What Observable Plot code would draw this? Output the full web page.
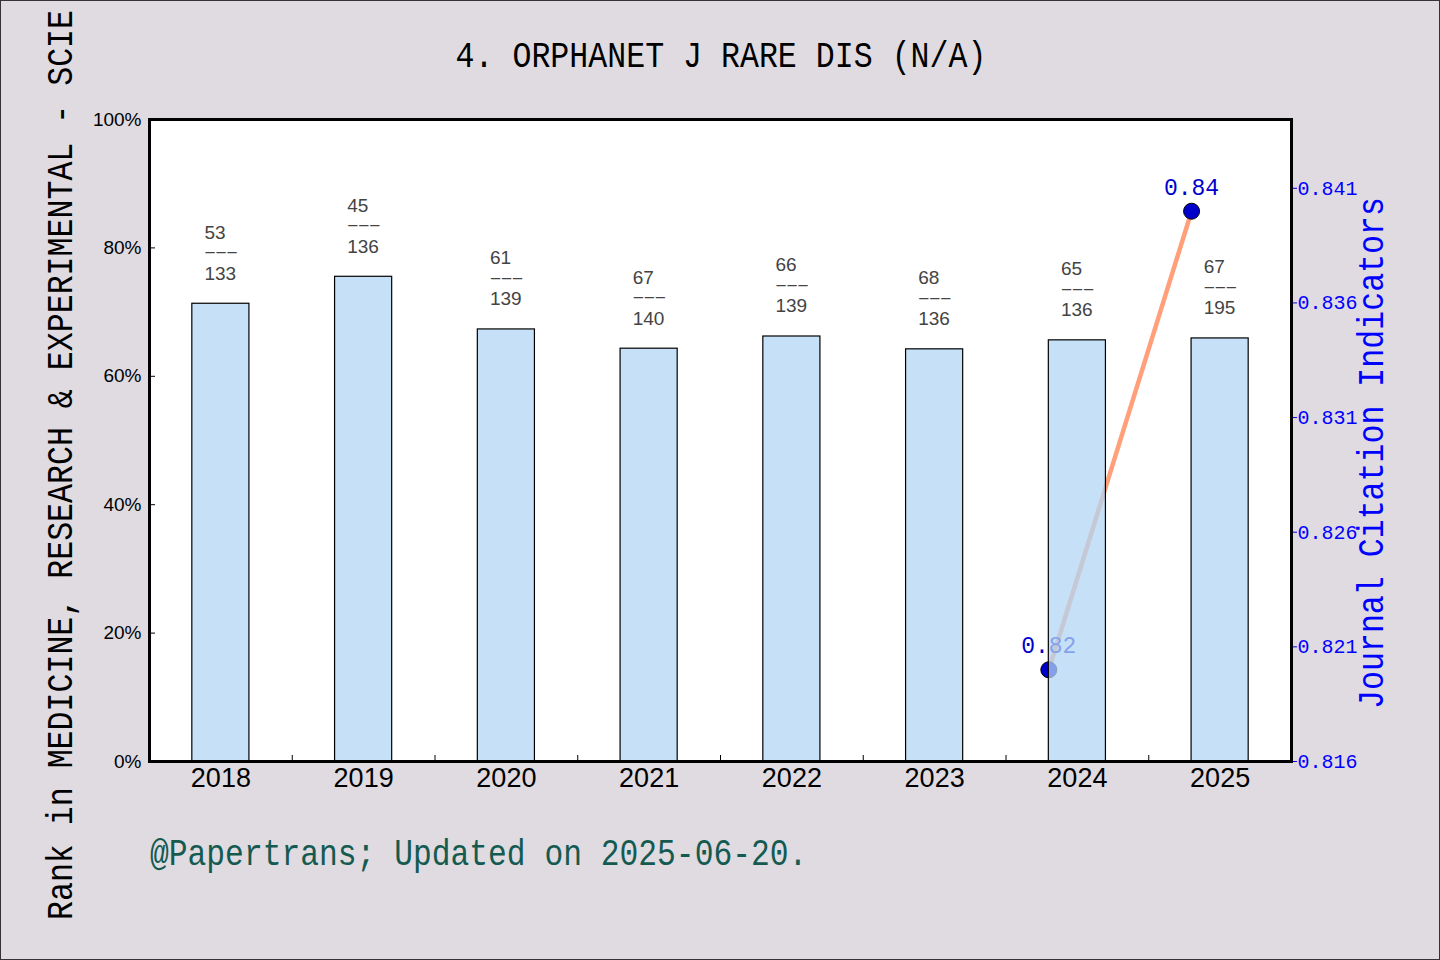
<!DOCTYPE html>
<html><head><meta charset="utf-8">
<script src="https://cdn.jsdelivr.net/npm/d3@7"></script>
<script src="https://cdn.jsdelivr.net/npm/@observablehq/plot@0.6"></script>
<style>
html,body{margin:0;padding:0;background:#dfdbe1;}
#wrap{position:relative;width:1440px;height:960px;background:#dfdbe1;outline:1px solid #333;outline-offset:-1px;overflow:hidden;}
#chart{position:absolute;left:0;top:0;}
.t{position:absolute;white-space:pre;font-family:"Liberation Mono","DejaVu Sans Mono",monospace;line-height:1;font-size:31.6px;}
#title{left:721px;top:57px;transform:translate(-50%,-50%) scale(1,1.18);color:#000;}
#ylab{left:62px;top:465px;transform:translate(-50%,-50%) rotate(-90deg) scale(1,1.18);color:#000;}
#y2lab{left:1373px;top:453px;transform:translate(-50%,-50%) rotate(-90deg) scale(1,1.18);color:blue;}
#foot{left:150px;top:855px;transform:translate(0,-50%) scale(1,1.18);transform-origin:left center;color:#145a50;font-size:31.3px;}
</style></head><body>
<div id="wrap">
<div id="chart"></div>
<div class="t" id="title">4. ORPHANET J RARE DIS (N/A)</div>
<div class="t" id="ylab">Rank in MEDICINE, RESEARCH &amp; EXPERIMENTAL - SCIE</div>
<div class="t" id="y2lab">Journal Citation Indicators</div>
<div class="t" id="foot">@Papertrans; Updated on 2025-06-20.</div>
</div>
<script>
// ---- data ----
const years = [2018, 2019, 2020, 2021, 2022, 2023, 2024, 2025];
const rankPct = [71.3, 75.5, 67.3, 64.3, 66.2, 64.2, 65.6, 65.9];
const ranks = [53, 45, 61, 67, 66, 68, 65, 67];
const totals = [133, 136, 139, 140, 139, 136, 136, 195];
const jciYears = [2024, 2025];
const jciValues = [0.820, 0.840];
const leftTicks = [0, 20, 40, 60, 80, 100];
const rightTicks = [0.816, 0.821, 0.826, 0.831, 0.836, 0.841];
const jciDomain = [0.816, 0.844];

const MONO = '"Liberation Mono","DejaVu Sans Mono",monospace';
const SANS = '"Liberation Sans",Arial,sans-serif';
const toY = v => (v - jciDomain[0]) / (jciDomain[1] - jciDomain[0]) * 100;
const fromY = t => jciDomain[0] + t / 100 * (jciDomain[1] - jciDomain[0]);

const rows = years.map((y, i) => ({year: y, pct: rankPct[i], label: `${ranks[i]}\n\u2212\u2212\u2212\n${totals[i]}`}));
const jci = jciYears.map((y, i) => ({year: y, v: jciValues[i]}));
const boundaries = years.slice(1).map(y => y - 0.5);

const chart = Plot.plot({
  width: 1440, height: 960,
  marginLeft: 149, marginRight: 149, marginTop: 119, marginBottom: 199,
  style: {background: "transparent", fontFamily: SANS, overflow: "visible"},
  x: {domain: [years[0] - 0.5, years[years.length - 1] + 0.5], label: null},
  y: {domain: [0, 100], label: null},
  marks: [
    Plot.frame({fill: "white"}),
    Plot.line(jci, {x: d => d.year - 0.2, y: d => toY(d.v), stroke: "#ffa07a", strokeWidth: 4.5}),
    Plot.dot(jci, {x: d => d.year - 0.2, y: d => toY(d.v), r: 8, fill: "mediumblue", stroke: "black", strokeWidth: 1}),
    Plot.text(jci, {x: d => d.year - 0.2, y: d => toY(d.v), text: d => d.v.toFixed(2), dy: -24, fill: "mediumblue", fontSize: 23, fontFamily: MONO}),
    Plot.rectY(rows, {x1: d => d.year - 0.2, x2: d => d.year + 0.2, y: "pct", fill: "#b2d6f4", fillOpacity: 0.75, stroke: "black", strokeWidth: 1.2}),
    Plot.text(rows, {x: "year", y: "pct", text: "label", textAnchor: "start", dx: -16.5, dy: -24, lineAnchor: "bottom", lineHeight: 1.08, fontSize: 19, fill: "#444", fontFamily: SANS}),
    Plot.axisX({ticks: years, tickSize: 0, tickPadding: 6, tickFormat: d => String(d), fontSize: 27, label: null}),
    Plot.axisX({ticks: boundaries, tickSize: -6, tickFormat: () => "", label: null}),
    Plot.axisY({anchor: "left", ticks: leftTicks, tickSize: -6, tickPadding: 14, tickFormat: d => d + "%", fontSize: 19, label: null}),
    Plot.axisY({anchor: "right", ticks: rightTicks.map(toY), tickSize: 5, tickPadding: 1, tickFormat: t => fromY(t).toFixed(3), fontSize: 20, fontFamily: MONO, color: "blue", label: null}),
    Plot.frame({stroke: "black", strokeWidth: 3})
  ]
});
document.getElementById("chart").appendChild(chart);
</script>
</body></html>
